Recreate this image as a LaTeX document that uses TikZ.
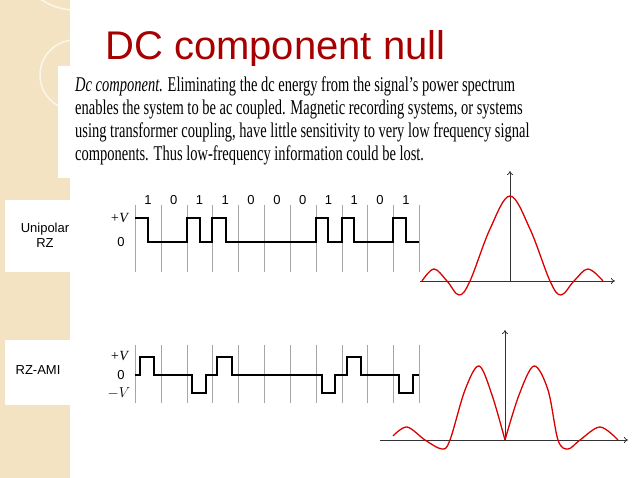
\documentclass[tikz,border=0pt]{standalone}
\usepackage{fontspec}
\setmainfont{Liberation Serif}
\setsansfont{Liberation Sans}
\usetikzlibrary{arrows.meta}
\definecolor{beige}{HTML}{F3E3C2}
\begin{document}
\begin{tikzpicture}[x=1pt,y=-1pt,
  grid/.style={gray!70,line width=0.6pt},
  wave/.style={black,line width=1.8pt,line join=miter},
  spec/.style={red!85!black,line width=1.3pt},
  ax/.style={black!80,line width=0.8pt,-{To[length=4pt,width=6pt]}},
  body/.style={anchor=base west,inner sep=0pt,font=\fontsize{21}{23}\selectfont},
  lab/.style={font=\sffamily\fontsize{13}{15}\selectfont,align=center,inner sep=0pt},
  vlab/.style={font=\fontsize{14}{15}\selectfont\itshape,inner sep=0pt},
  bit/.style={font=\sffamily\fontsize{13}{14}\selectfont,inner sep=0pt}]
\useasboundingbox (0,0) rectangle (638,478);
\fill[white] (0,0) rectangle (638,478);
\fill[beige] (0,0) rectangle (70,478);
\draw[white,line width=1.5pt,opacity=0.7] (75,10) arc (90:200:60);
\draw[white,line width=1.5pt,opacity=0.7] (75,110) arc (90:270:35);
% title
\node[anchor=base west,inner sep=0pt,text=red!65!black,font=\sffamily\fontsize{40}{42}\selectfont] (title) at (105,60) {DC component null};
% text box
\fill[white] (58,66) rectangle (522,178);
\node[body] (l1) at (75,92) {\scalebox{0.69}[1]{\textit{Dc component.} Eliminating the dc energy from the signal’s power spectrum}};
\node[body] (l2) at (75,115) {\scalebox{0.69}[1]{enables the system to be ac coupled. Magnetic recording systems, or systems}};
\node[body] (l3) at (75,138) {\scalebox{0.69}[1]{using transformer coupling, have little sensitivity to very low frequency signal}};
\node[body] (l4) at (75,161) {\scalebox{0.69}[1]{components. Thus low-frequency information could be lost.}};
% label boxes
\fill[white] (5,200) rectangle (88,272);
\node[lab] (uni) at (45,235) {Unipolar\\RZ};
\fill[white] (5,340) rectangle (70,405);
\node[lab] (ami) at (38,370) {RZ-AMI};
% unipolar
\foreach \x in {135,161,187,212,238,264,290,316,342,367,393,419} \draw[grid] (\x,205) -- (\x,272);
\foreach \b [count=\i] in {1,0,1,1,0,0,0,1,1,0,1} \node[bit] (b\i) at (135+25.8*\i-12.9,200) {\b};
\node[vlab] (pv1) at (119,218) {+V};
\node[lab] (z1) at (121,242) {0};
\draw[wave] (135,218)--(148,218)--(148,242)--(187,242)--(187,218)--(200,218)--(200,242)--(212,242)--(212,218)--(226,218)--(226,242)--(316,242)--(316,218)--(328,218)--(328,242)--(342,242)--(342,218)--(354,218)--(354,242)--(393,242)--(393,218)--(406,218)--(406,242)--(419,242);
% AMI
\foreach \x in {135,161,187,212,238,264,290,316,342,367,393,419} \draw[grid] (\x,345) -- (\x,403);
\node[vlab] (pv2) at (119,356) {+V};
\node[lab] (z2) at (121,375) {0};
\node[vlab] (mv2) at (119,393) {$-V$};
\draw[wave] (135,375)--(140,375)--(140,357)--(154,357)--(154,375)--(192,375)--(192,393)--(206,393)--(206,375)--(217,375)--(217,357)--(232,357)--(232,375)--(322,375)--(322,393)--(335,393)--(335,375)--(347,375)--(347,357)--(361,357)--(361,375)--(399,375)--(399,393)--(413,393)--(413,375)--(419,375);
% spectrum 1
\coordinate (o1) at (510,281);
\coordinate (xe1) at (615,281);
\coordinate (ye1) at (510,171);
\draw[ax] (420,281) -- (xe1);
\draw[ax] (o1) -- (ye1);
\draw[spec] plot[smooth,tension=0.6] coordinates {(422,281)(434,269)(447,281)(459,295)(470,281)(490,229)(510,196)(530,229)(550,281)(561,295)(574,281)(588,269)(603,281)};
% spectrum 2
\coordinate (o2) at (505,440);
\coordinate (xe2) at (628,440);
\coordinate (ye2) at (505,330);
\draw[ax] (380,440) -- (xe2);
\draw[ax] (o2) -- (ye2);
\draw[spec] plot[smooth,tension=0.55] coordinates {(393,436)(407,427)(425,440)(442,449)(450,440)(465,390)(479,366)(492,395)(505,440)};
\draw[spec] plot[smooth,tension=0.55] coordinates {(505,440)(519,395)(534,366)(548,390)(558,440)(568,449)(580,440)(600,427)(618,440)};
\end{tikzpicture}
\end{document}
